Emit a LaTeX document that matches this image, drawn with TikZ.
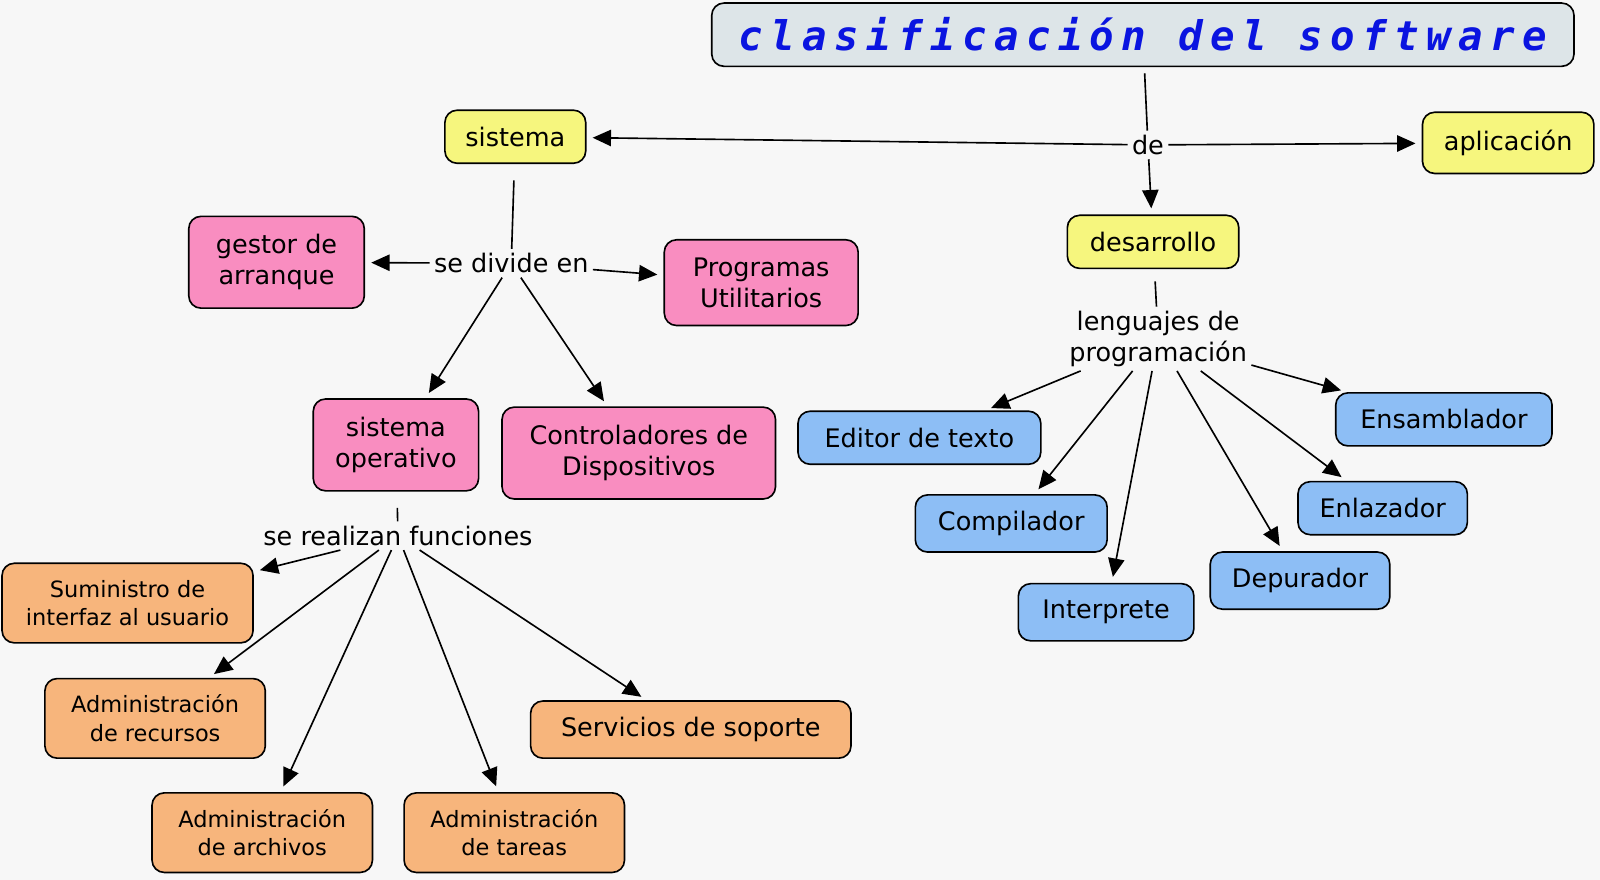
\documentclass[tikz,border=0pt]{standalone}
\usepackage{fontspec}
\setmainfont{DejaVu Sans}
\newfontfamily\titlefont{DejaVu Sans Mono}[LetterSpace=18]
\usetikzlibrary{arrows.meta}
\definecolor{bg}{HTML}{F7F7F7}
\definecolor{yel}{HTML}{F6F67E}
\definecolor{pnk}{HTML}{F98DC0}
\definecolor{org}{HTML}{F7B57C}
\definecolor{blu}{HTML}{8DBEF5}
\definecolor{tgr}{HTML}{DDE5E8}
\definecolor{tbl}{HTML}{0A14E0}
\begin{document}
\begin{tikzpicture}[x=0.5pt,y=-0.5pt,
 box/.style={draw=black,line width=0.8pt,rounded corners=6pt,align=center,inner sep=0pt,font=\fontsize{12.5}{15}\selectfont},
 yb/.style={box,fill=yel},
 pb/.style={box,fill=pnk},
 ob/.style={box,fill=org,font=\fontsize{11}{14}\selectfont},
 bb/.style={box,fill=blu},
 lab/.style={inner sep=2pt,font=\fontsize{12.5}{15}\selectfont,align=center},
 ln/.style={line width=0.8pt},
 ar/.style={ln,-{Triangle[length=9pt,width=8pt]},shorten >=3pt}]
\fill[bg] (0,0) rectangle (1568,862);
\useasboundingbox (0,0) rectangle (1568,862);
\node[box,fill=tgr,minimum width=422.5pt,minimum height=31pt,font=\titlefont\bfseries\itshape\fontsize{20}{24}\selectfont,text=tbl] (title) at (1120,34) {clasificación del software};
\node[yb,minimum width=69pt,minimum height=26pt] (sis) at (505,134) {sistema};
\node[yb,minimum width=84pt,minimum height=30pt] (apl) at (1478,140) {aplicación};
\node[yb,minimum width=84pt,minimum height=26pt] (des) at (1130,237) {desarrollo};
\node[lab,fill=bg] (de) at (1125,142) {de};
\node[pb,minimum width=86pt,minimum height=45pt] (ges) at (271,257) {gestor de\\arranque};
\node[lab] (div) at (501,258) {se divide en};
\node[pb,minimum width=95pt,minimum height=42pt] (pro) at (746,277) {Programas\\Utilitarios};
\node[pb,minimum width=81pt,minimum height=45pt] (so) at (388,436) {sistema\\operativo};
\node[pb,minimum width=134pt,minimum height=45pt] (con) at (626,444) {Controladores de\\Dispositivos};
\node[lab] (fun) at (390,525) {se realizan funciones};
\node[ob,minimum width=123pt,minimum height=39pt] (sum) at (125,591) {Suministro de\\interfaz al usuario};
\node[ob,minimum width=108pt,minimum height=39pt] (rec) at (152,704) {Administración\\de recursos};
\node[ob,minimum width=108pt,minimum height=39pt] (arc) at (257,816) {Administración\\de archivos};
\node[ob,minimum width=108pt,minimum height=39pt] (tar) at (504,816) {Administración\\de tareas};
\node[ob,minimum width=157pt,minimum height=28pt,font=\fontsize{12.5}{15}\selectfont] (ser) at (677,715) {Servicios de soporte};
\node[lab] (len) at (1135,332) {lenguajes de\\programación};
\node[bb,minimum width=119pt,minimum height=26pt] (edi) at (901,429) {Editor de texto};
\node[bb,minimum width=94pt,minimum height=28pt] (com) at (991,513) {Compilador};
\node[bb,minimum width=86pt,minimum height=28pt] (int) at (1084,600) {Interprete};
\node[bb,minimum width=88pt,minimum height=28pt] (dep) at (1274,569) {Depurador};
\node[bb,minimum width=83pt,minimum height=26pt] (enl) at (1355,498) {Enlazador};
\node[bb,minimum width=106pt,minimum height=26pt] (ens) at (1415,411) {Ensamblador};
% connectors
\draw[ln,shorten <=3pt] (title) -- (de);
\draw[ar] (de) -- (sis);
\draw[ar] (de) -- (apl);
\draw[ar] (de) -- (des);
\draw[ln,shorten <=8pt] (sis) -- (div);
\draw[ar] (div) -- (ges);
\draw[ar] (div) -- (pro);
\draw[ar] (div) -- (so);
\draw[ar] (div) -- (con);
\draw[ln,shorten <=8pt] (so) -- (fun);
\foreach \t in {sum,rec,arc,tar,ser} \draw[ar] (fun) -- (\t);
\draw[ln,shorten <=6pt] (des) -- (len);
\foreach \t in {edi,com,int,dep,enl,ens} \draw[ar] (len) -- (\t);
\end{tikzpicture}
\end{document}
